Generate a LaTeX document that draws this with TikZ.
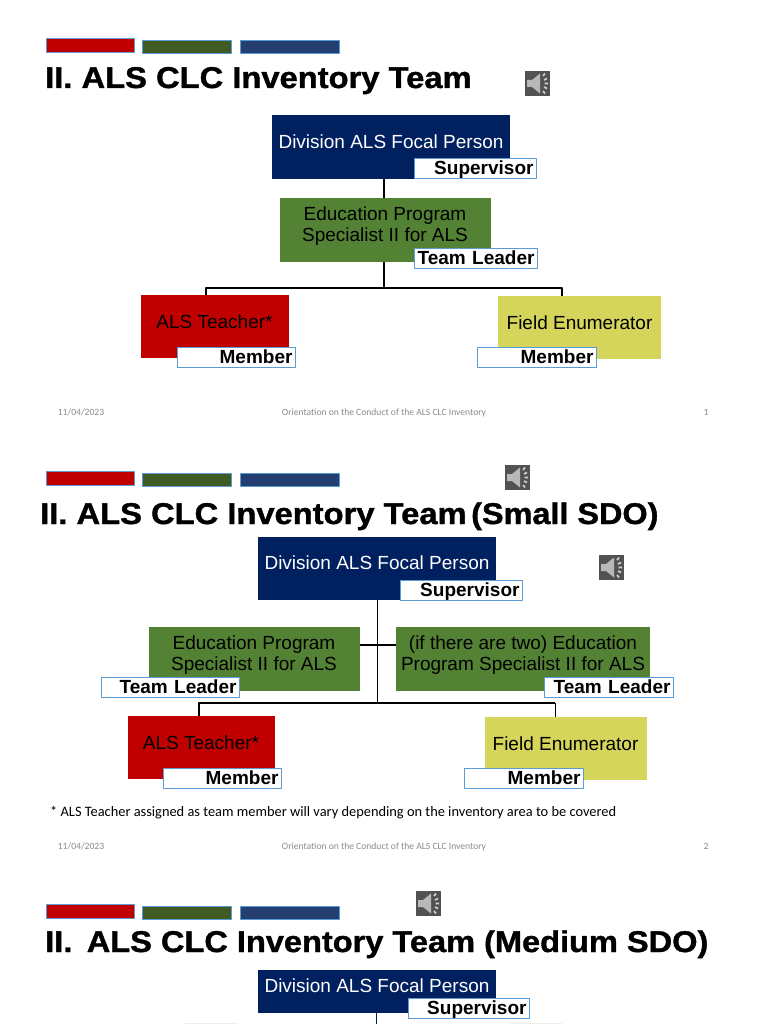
\documentclass[tikz,border=0pt]{standalone}
\usepackage{fontspec}
\setmainfont{Liberation Sans}
\newfontfamily\calibrifont{Carlito}
\newfontfamily\titlefont[BoldFeatures={FakeBold=1.2}]{Liberation Sans}
\definecolor{navybox}{HTML}{002060}
\definecolor{greenbox}{HTML}{548235}
\definecolor{redbox}{HTML}{C00000}
\definecolor{yellowbox}{HTML}{D6D55B}
\definecolor{greenbar}{HTML}{3F5B23}
\definecolor{bluebar}{HTML}{243F6F}
\definecolor{edgeblue}{HTML}{5B9BD5}
\definecolor{footgray}{HTML}{8A8A8A}
\definecolor{palecream}{HTML}{EFEEE2}
\tikzset{
	orgbox/.style={rectangle,inner sep=0pt,align=center,font=\fontsize{19}{21}\selectfont},
	rolebox/.style={draw=edgeblue,fill=white,line width=1pt,rectangle,inner xsep=3pt,inner ysep=0pt,text width=#1-7pt,text height=15pt,text depth=3pt,minimum height=20pt,align=right,font=\fontsize{19}{21}\selectfont\bfseries},
	barbox/.style={draw=edgeblue,line width=0.6pt,rectangle,inner sep=0pt,minimum height=14pt},
	titletext/.style={anchor=base west,inner sep=0pt,font=\titlefont\fontsize{30}{32}\selectfont\bfseries},
	foottext/.style={anchor=base,inner sep=0pt,text=footgray,font=\calibrifont\fontsize{9.6}{10}\selectfont},
	orgline/.style={line width=1.4pt}
}
% bars on top of a slide: #1 = slide, #2 = y of red bar
\newcommand{\slidebars}[2]{
	\node[barbox,fill=redbox,minimum width=88pt,anchor=north west] (red#1) at (46,#2) {};
	\node[barbox,fill=greenbar,minimum width=89pt,minimum height=13pt,anchor=north west] (green#1) at (142,#2+2) {};
	\node[barbox,fill=bluebar,minimum width=99pt,minimum height=13pt,anchor=north west] (blue#1) at (240,#2+2) {};
}
% loudspeaker icon: #1,#2 = upper left corner
\newcommand{\speakericon}[2]{
	\begin{scope}[shift={(#1,#2)}]
		\fill[black!68] (0,0) rectangle (25,25);
		\fill[black!28] (2,9) -- (7,9) -- (15,2.5) -- (15,22.5) -- (7,16) -- (2,16) -- cycle;
		\draw[black!18,line width=1.7pt] (18,5)--(20,2.5) (19,9)--(22,7.5) (19.5,12.5)--(23,12.5) (19,16)--(22,17.5) (18,20)--(20,22.5);
	\end{scope}
}
\begin{document}
\begin{tikzpicture}[x=1pt,y=-1pt,line join=round]
	\useasboundingbox (0,0) rectangle (768,1024);
	% slide 1
	\slidebars{1}{38}
	\node[titletext,xscale=1.09] (title1) at (45,88) {II. ALS CLC Inventory Team};
	\speakericon{525}{71}
	\node[orgbox,fill=navybox,text=white,minimum width=238pt,minimum height=64pt] (focal1) at (391,147) {};
	\node[orgbox,text=white] (focaltext1) at (391,142) {Division ALS Focal Person};
	\node[rolebox=123pt] (sup1) at (475.5,169) {Supervisor};
	\node[orgbox,fill=greenbox,minimum width=211pt,minimum height=64pt] (epsa1) at (385.5,230) {};
	\node[orgbox] (epsatext1) at (385,226.5) {Education Program\\Specialist II for ALS};
	\node[rolebox=124pt] (lead1) at (476,258.5) {Team Leader};
	\node[orgbox,fill=redbox,minimum width=148pt,minimum height=63pt] (teacher1) at (215,326.5) {};
	\node[orgbox] (teachertext1) at (214.5,321.5) {ALS Teacher*};
	\node[orgbox,fill=yellowbox,minimum width=163pt,minimum height=63pt] (field1) at (579.5,327.5) {};
	\node[orgbox] (fieldtext1) at (579.5,322.5) {Field Enumerator};
	\node[rolebox=119pt] (memb1) at (236.5,357.5) {Member};
	\node[rolebox=120pt] (membb1) at (537,357.5) {Member};
	\coordinate (bus1) at (384,288);
	\draw[orgline] (bus1 |- focal1.south) -- (bus1 |- epsa1.north);
	\draw[orgline] (bus1 |- epsa1.south) -- (bus1);
	\draw[orgline] (206,295) -- (206,288) -- (562,288) -- (562,296);
	\node[foottext] (date1) at (81,415) {11/04/2023};
	\node[foottext] (foot1) at (384,415) {Orientation on the Conduct of the ALS CLC Inventory};
	\node[foottext] (page1) at (706,415) {1};
	% slide 2
	\slidebars{2}{471}
	\node[titletext,xscale=1.09] (title2) at (40,524) {II. ALS CLC Inventory Team};
	\node[titletext,xscale=1.08] (small2) at (471,524) {(Small SDO)};
	\speakericon{505}{465}
	\node[orgbox,fill=navybox,text=white,minimum width=238pt,minimum height=63pt] (focal2) at (377,568.5) {};
	\node[orgbox,text=white] (focaltext2) at (377,563) {Division ALS Focal Person};
	\node[rolebox=123pt] (sup2) at (461.5,590.5) {Supervisor};
	\speakericon{599}{555}
	\node[orgbox,fill=greenbox,minimum width=211pt,minimum height=64pt] (epsa2) at (254.5,659) {};
	\node[orgbox] (epsatext2) at (254,655.5) {Education Program\\Specialist II for ALS};
	\node[orgbox,fill=greenbox,minimum width=254pt,minimum height=64pt] (epsb2) at (523,659) {};
	\node[orgbox] (epsbtext2) at (523,655.5) {(if there are two) Education\\Program Specialist II for ALS};
	\node[rolebox=139pt] (lead2) at (170.5,687) {Team Leader};
	\node[rolebox=130pt] (leadb2) at (609,687) {Team Leader};
	\node[orgbox,fill=redbox,minimum width=147pt,minimum height=63pt] (teacher2) at (201,747.5) {};
	\node[orgbox] (teachertext2) at (201,742.5) {ALS Teacher*};
	\node[orgbox,fill=yellowbox,minimum width=162pt,minimum height=63pt] (field2) at (566,748.5) {};
	\node[orgbox] (fieldtext2) at (565.5,743.5) {Field Enumerator};
	\node[rolebox=119pt] (memb2) at (222.5,778) {Member};
	\node[rolebox=120pt] (membb2) at (524,778) {Member};
	\coordinate (bus2) at (377.5,703);
	\draw[line width=0.8pt] (bus2 |- focal2.south) -- (bus2);
	\draw[orgline] (epsa2.east |- 0,645) -- (epsb2.west |- 0,645);
	\draw[orgline] (199,716) -- (199,703) -- (555,703);
	\draw[line width=0.8pt] (555,703) -- (555,717);
	\node[inner sep=0pt,anchor=base west,font=\calibrifont\fontsize{14.4}{16}\selectfont] (note2) at (50,816) {* ALS Teacher assigned as team member will vary depending on the inventory area to be covered};
	\node[foottext] (date2) at (81,849) {11/04/2023};
	\node[foottext] (foot2) at (384,849) {Orientation on the Conduct of the ALS CLC Inventory};
	\node[foottext] (page2) at (706,849) {2};
	% slide 3
	\slidebars{3}{904}
	\speakericon{416}{891}
	\node[titletext,xscale=1.085] (title3) at (45,952) {II.\, ALS CLC Inventory Team (Medium SDO)};
	\node[orgbox,fill=navybox,text=white,minimum width=238pt,minimum height=43pt] (focal3) at (377,991.5) {};
	\node[orgbox,text=white] (focaltext3) at (377,986) {Division ALS Focal Person};
	\node[rolebox=122pt] (sup3) at (469,1008) {Supervisor};
	\coordinate (bus3) at (376,1024);
	\draw[line width=0.8pt,navybox] (bus3 |- focal3.south) -- (bus3);
	\fill[palecream] (185,1023) rectangle (238,1024) (510,1023) rectangle (562,1024);
\end{tikzpicture}
\end{document}
